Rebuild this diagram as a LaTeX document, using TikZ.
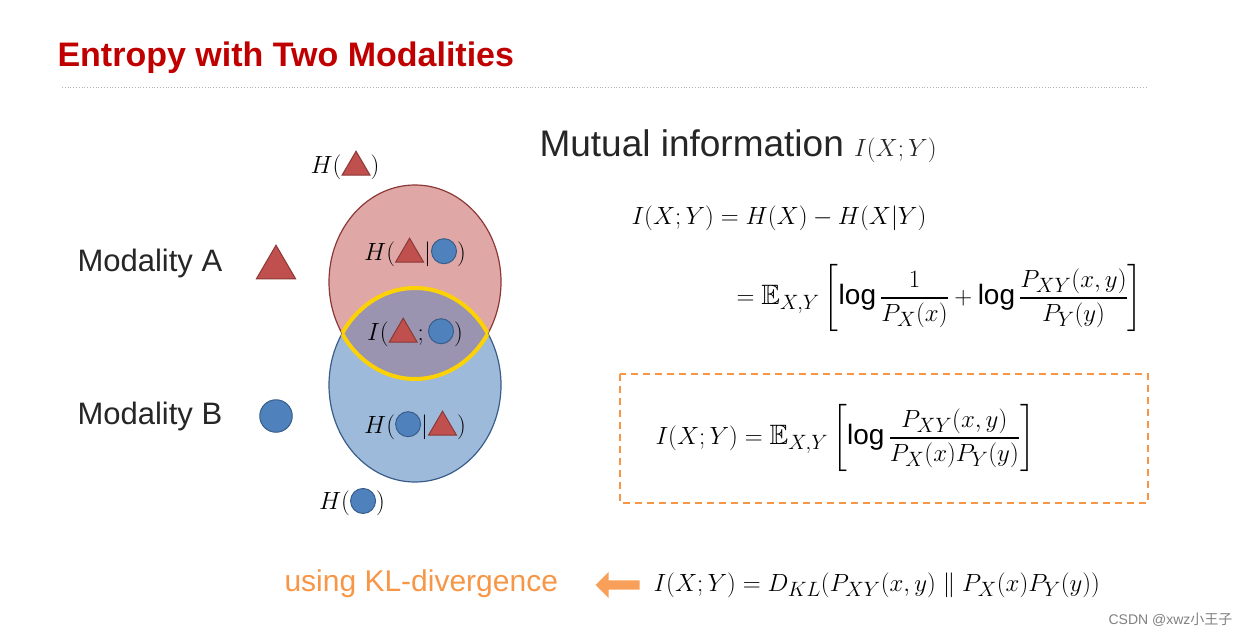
\documentclass[tikz,border=0pt]{standalone}
\usepackage{amsmath,amssymb}
\usepackage{fontspec}
\setmainfont{Liberation Sans}
\newfontfamily\cjk{Noto Sans CJK SC}
\usetikzlibrary{shapes.arrows}
\definecolor{ttl}{HTML}{C00000}
\definecolor{tri}{HTML}{C0504D}
\definecolor{trid}{HTML}{8C3836}
\definecolor{cir}{HTML}{4F81BD}
\definecolor{cird}{HTML}{385D8A}
\definecolor{org}{HTML}{F79646}
\definecolor{lens}{HTML}{9A94B0}
\newcommand{\mytri}[1][1]{\tikz[baseline=-0.6ex,x=1pt,y=1pt,scale=#1]{\fill[tri,draw=trid,line width=1pt](-14,-11)--(14,-11)--(0,13)--cycle;}}
\newcommand{\mycir}[1][1]{\tikz[baseline=-0.6ex,x=1pt,y=1pt,scale=#1]{\fill[cir,draw=cird,line width=1pt](0,0) circle (12.5);}}
\tikzset{lbl/.style={font=\fontsize{28}{32}\selectfont,inner sep=0pt},
eq/.style={font=\fontsize{28}{32}\selectfont,anchor=west}}
\begin{document}
\begin{tikzpicture}[x=1pt,y=-1pt]
\useasboundingbox (0,0) rectangle (1250,637);
\node[anchor=west,text=ttl,font=\fontsize{34}{40}\selectfont\bfseries] (title) at (54,58) {Entropy with Two Modalities};
\draw[gray!60,dotted,line width=0.8pt] (62,87) coordinate (l1) -- (1148,87) coordinate (l2);
% Venn
\fill[tri!50!white,draw=trid,line width=1.2pt] (415,282) ellipse (86 and 97);
\fill[cir!55!white,draw=cird,line width=1.2pt] (415,385) ellipse (86 and 97);
\begin{scope}
\clip (415,282) ellipse (86 and 97);
\fill[lens] (415,385) ellipse (86 and 97);
\draw[yellow!70!orange,line width=4pt] (415,385) ellipse (86 and 97);
\end{scope}
\begin{scope}
\clip (415,385) ellipse (86 and 97);
\draw[yellow!70!orange,line width=4pt] (415,282) ellipse (86 and 97);
\end{scope}
\node[lbl] (h1) at (345,165) {$H(\mytri)$};
\node[lbl] (hab) at (415,252) {$H(\mytri|\mycir)$};
\node[lbl] (iab) at (415,332) {$I(\mytri;\mycir)$};
\node[lbl] (hba) at (415,425) {$H(\mycir|\mytri)$};
\node[lbl] (h2) at (352,502) {$H(\mycir)$};
\node[anchor=west,font=\fontsize{31}{36}\selectfont,text=black!85] (ma) at (74,263) {Modality A};
\node[anchor=west,font=\fontsize{31}{36}\selectfont,text=black!85] (mb) at (74,416) {Modality B};
\node (ta) at (276,262) {\mytri[1.4]};
\node (cb) at (276,416) {\mycir[1.3]};
% right side
\node[anchor=west,font=\fontsize{37}{42}\selectfont,text=black!85] (mi) at (536,146) {Mutual information $I(X;Y)$};
\node[eq] (e1) at (628,218) {$I(X;Y)=H(X)-H(X|Y)$};
\node[eq] (e2) at (733,298) {$=\mathbb{E}_{X,Y}\left[\log\dfrac{1}{P_X(x)}+\log\dfrac{P_{XY}(x,y)}{P_Y(y)}\right]$};
\draw[org,line width=1.6pt,dash pattern=on 7pt off 5pt] (620,374) rectangle (1148,503);
\node[eq] (e3) at (652,438) {$I(X;Y)=\mathbb{E}_{X,Y}\left[\log\dfrac{P_{XY}(x,y)}{P_X(x)P_Y(y)}\right]$};
\node[eq] (e4) at (650,585) {$I(X;Y)=D_{KL}(P_{XY}(x,y)\parallel P_X(x)P_Y(y))$};
\node[anchor=west,text=org,font=\fontsize{30}{34}\selectfont] (kl) at (281,584) {using KL-divergence};
\node[single arrow,shape border rotate=180,fill=org!90!white,minimum height=44pt,minimum width=26pt,single arrow head extend=4pt,inner sep=2pt] (ar) at (620,585) {};
\node[anchor=east,font=\fontsize{14}{16}\selectfont,text=gray] (wm) at (1236,620) {CSDN @xwz{\cjk 小王子}};
\end{tikzpicture}
\end{document}
